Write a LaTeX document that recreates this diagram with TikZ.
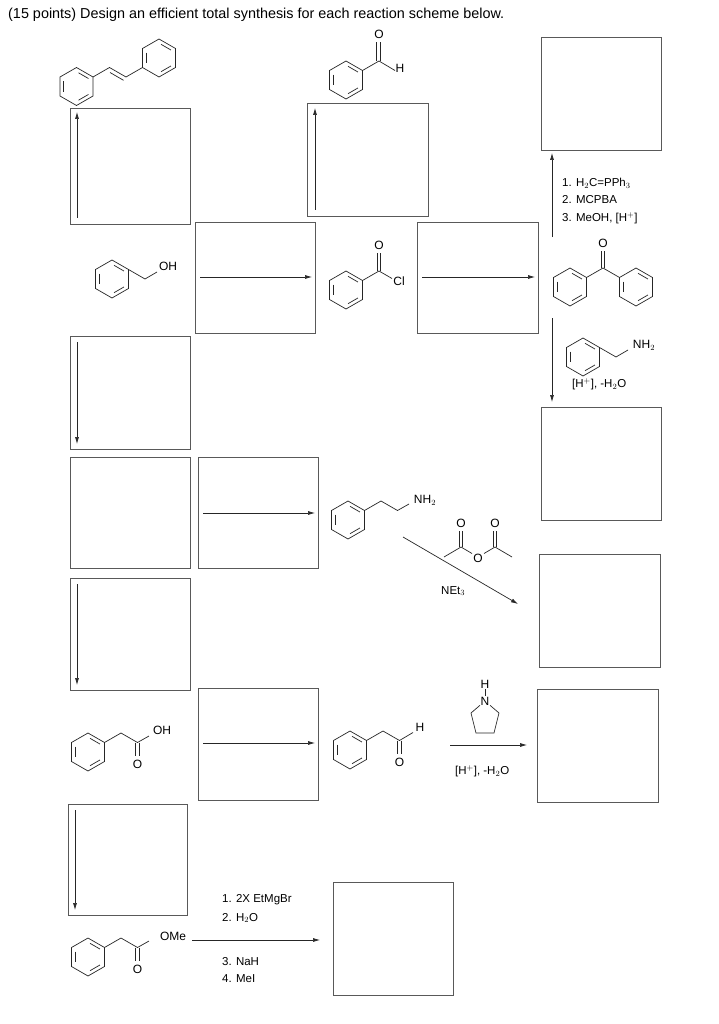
\documentclass[tikz,border=0pt]{standalone}
\usepackage{fontspec}
\setmainfont{Liberation Sans}
\usetikzlibrary{arrows.meta,calc}
\newcommand\benzring[2]{%
  \draw[bond] (#1,{#2-19}) -- ++(16.5,9.5) -- ++(0,19) -- ++(-16.5,9.5) -- ++(-16.5,-9.5) -- ++(0,-19) -- cycle;
  \draw[bond] ({#1+2},{#2-14.8+1.1}) -- ({#1+12.9-1},{#2-7.4-0.6});
  \draw[bond] ({#1+12.9-1},{#2+7.4+0.6}) -- ({#1+2},{#2+14.8-1.1});
  \draw[bond] ({#1-12.9},{#2-7.4+2}) -- ({#1-12.9},{#2+7.4-2});
}
\begin{document}
\begin{tikzpicture}[x=1pt,y=-1pt,
  bond/.style={line width=0.7pt,black!85},
  box/.style={draw=black!65,line width=0.9pt},
  arr/.style={line width=0.7pt,black!85,-{Latex[length=7pt,width=4pt]}},
  atom/.style={font=\fontsize{12}{14}\selectfont,inner sep=0.5pt},
  reag/.style={font=\fontsize{11.5}{13}\selectfont,anchor=west,inner sep=0}]
\useasboundingbox[fill=white] (0,0) rectangle (719,1024);
\node[anchor=west,inner sep=0,font=\fontsize{14.4}{16}\selectfont] (title) at (8,15) {(15 points) Design an efficient total synthesis for each reaction scheme below.};
% boxes
\draw[box] (541,37) rectangle (661,150);
\draw[box] (70,108) rectangle (190,224);
\draw[box] (307,103) rectangle (428,216);
\draw[box] (195,222) rectangle (315,333);
\draw[box] (417,222) rectangle (538,333);
\draw[box] (70,336) rectangle (190,449);
\draw[box] (541,407) rectangle (661,520);
\draw[box] (70,457) rectangle (190,568);
\draw[box] (198,457) rectangle (318,568);
\draw[box] (539,554) rectangle (660,667);
\draw[box] (70,578) rectangle (190,690);
\draw[box] (198,688) rectangle (318,800);
\draw[box] (537,689) rectangle (658,802);
\draw[box] (68,804) rectangle (187,915);
\draw[box] (333,882) rectangle (453,995);
% arrows in boxes
\coordinate (a1s) at (77,218); \coordinate (a1e) at (77,112); \draw[arr] (a1s) -- (a1e);
\coordinate (a2s) at (315,210); \coordinate (a2e) at (315,108); \draw[arr] (a2s) -- (a2e);
\coordinate (a3s) at (200,277); \coordinate (a3e) at (312,277); \draw[arr] (a3s) -- (a3e);
\coordinate (a4s) at (422,277); \coordinate (a4e) at (535,277); \draw[arr] (a4s) -- (a4e);
\coordinate (a5s) at (77,342); \coordinate (a5e) at (77,444); \draw[arr] (a5s) -- (a5e);
\coordinate (a6s) at (203,513); \coordinate (a6e) at (315,513); \draw[arr] (a6s) -- (a6e);
\coordinate (a7s) at (77,584); \coordinate (a7e) at (77,685); \draw[arr] (a7s) -- (a7e);
\coordinate (a8s) at (203,743); \coordinate (a8e) at (315,743); \draw[arr] (a8s) -- (a8e);
\coordinate (a9s) at (75,810); \coordinate (a9e) at (75,910); \draw[arr] (a9s) -- (a9e);
% reagent arrows
\coordinate (r1s) at (552,237); \coordinate (r1e) at (552,153); \draw[arr] (r1s) -- (r1e);
\node[reag] (t1) at (562,183) {1. H$_2$C=PPh$_3$};
\node[reag] (t2) at (562,200) {2. MCPBA};
\node[reag] (t3) at (562,218) {3. MeOH, [H$^+$]};
\coordinate (r2s) at (552,318); \coordinate (r2e) at (552,402); \draw[arr] (r2s) -- (r2e);
\node[reag] (t4) at (572,384) {[H$^+$], -H$_2$O};
\coordinate (r3s) at (403,537); \coordinate (r3e) at (518,604); \draw[arr] (r3s) -- (r3e);
\node[reag] (t5) at (441,591) {NEt$_3$};
\coordinate (r4s) at (450,745); \coordinate (r4e) at (527,745); \draw[arr] (r4s) -- (r4e);
\node[reag] (t6) at (455,771) {[H$^+$], -H$_2$O};
\coordinate (r5s) at (192,940); \coordinate (r5e) at (320,940); \draw[arr] (r5s) -- (r5e);
\node[reag] (t7) at (222,900) {1. 2X EtMgBr};
\node[reag] (t8) at (222,918) {2. H$_2$O};
\node[reag] (t9) at (222,962) {3. NaH};
\node[reag] (t10) at (222,979) {4. MeI};
% stilbene
\benzring{76.5}{86.5}
\benzring{159}{58}
\draw[bond] (93,77) -- (109.5,67.5) -- (126,77) -- (142.5,67.5);
\draw[bond] (110,72.5) -- (123.5,80.3);
% benzaldehyde
\benzring{346}{80}
\draw[bond] (362.5,70.5) -- (379,61) -- (395,70.5);
\node[atom] (o1) at (379,34) {O};
\node[atom] (h1) at (400,68) {H};
\draw[bond] (376.5,61) -- (376.5,42); \draw[bond] (380,61) -- (380,42);
% benzyl alcohol
\benzring{112}{279}
\draw[bond] (128.5,269.5) -- (145,279) -- (157,272);
\node[atom] (oh1) at (168,266) {OH};
% benzoyl chloride
\benzring{346}{290}
\draw[bond] (362.5,280.5) -- (379,271) -- (392,278.5);
\draw[bond] (377.3,271) -- (377.3,253); \draw[bond] (380.7,271) -- (380.7,253);
\node[atom] (o2) at (379,245) {O};
\node[atom] (cl) at (399,281) {Cl};
% benzophenone
\benzring{570}{287}
\benzring{636}{287}
\draw[bond] (586.5,277.5) -- (603,268) -- (619.5,277.5);
\draw[bond] (601.3,268) -- (601.3,251); \draw[bond] (604.7,268) -- (604.7,251);
\node[atom] (o3) at (603,243) {O};
% benzylamine
\benzring{583}{357}
\draw[bond] (599.5,347.5) -- (616,357) -- (628,350);
\node[atom] (n1) at (644,345) {NH$_2$};
% phenethylamine
\benzring{348}{520}
\draw[bond] (364.5,510.5) -- (381,501) -- (397.5,510.5) -- (409,504);
\node[atom] (n2) at (425,500) {NH$_2$};
% acetic anhydride
\draw[bond] (444,557) -- (461,547) -- (472,553.5);
\draw[bond] (484,553.5) -- (495,547) -- (512,557);
\draw[bond] (459.3,547) -- (459.3,531); \draw[bond] (462.7,547) -- (462.7,531);
\draw[bond] (493.3,547) -- (493.3,531); \draw[bond] (496.7,547) -- (496.7,531);
\node[atom] (o4) at (461,523) {O};
\node[atom] (o5) at (478,558) {O};
\node[atom] (o6) at (495,523) {O};
% phenylacetic acid
\benzring{88}{752}
\draw[bond] (104.5,742.5) -- (121,733) -- (137.5,742.5) -- (149,736);
\draw[bond] (135.8,742.5) -- (135.8,756); \draw[bond] (139.2,742.5) -- (139.2,756);
\node[atom] (o7) at (137.5,764) {O};
\node[atom] (oh2) at (162,730) {OH};
% phenylacetaldehyde
\benzring{350}{750}
\draw[bond] (366.5,740.5) -- (383,731) -- (399.5,740.5) -- (413,732.5);
\draw[bond] (397.8,740.5) -- (397.8,754); \draw[bond] (401.2,740.5) -- (401.2,754);
\node[atom] (o8) at (399.5,762) {O};
\node[atom] (h2) at (420,727) {H};
% pyrrolidine
\node[atom] (n3) at (485,701) {N};
\node[atom] (h3) at (485,684) {H};
\draw[bond] (h3) -- (n3);
\draw[bond] (n3) -- (471,713) -- (476,733) -- (494,733) -- (499,713) -- (n3);
% methyl phenylacetate
\benzring{88}{957}
\draw[bond] (104.5,947.5) -- (121,938) -- (137.5,947.5) -- (149,941);
\draw[bond] (135.8,947.5) -- (135.8,961); \draw[bond] (139.2,947.5) -- (139.2,961);
\node[atom] (o9) at (137.5,969) {O};
\node[atom] (ome) at (173,936) {OMe};
\end{tikzpicture}
\end{document}
